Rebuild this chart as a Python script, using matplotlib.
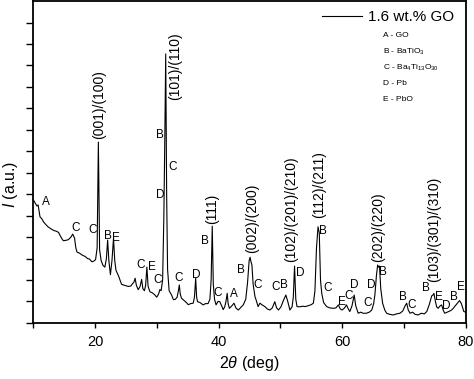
import matplotlib
matplotlib.use("Agg")
import matplotlib.pyplot as plt
from matplotlib.lines import Line2D

plt.rcParams['font.family'] = ['Liberation Sans', 'DejaVu Sans']
plt.rcParams['mathtext.fontset'] = 'custom'
plt.rcParams['mathtext.rm'] = 'Liberation Sans'
plt.rcParams['mathtext.it'] = 'Liberation Sans:italic'

# XRD pattern, 1.6 wt.% GO
two_theta = [
    10.0, 10.3, 10.6, 10.8, 11.1, 11.4, 11.7, 12.0, 12.4, 12.8, 13.1, 13.4, 13.7,
    14.1, 14.4, 14.7, 14.9, 15.3, 15.7, 16.1, 16.4, 16.7, 16.9, 17.1, 17.5, 18.0,
    18.4, 18.8, 19.1, 19.5, 19.8, 20.1, 20.35, 20.55, 20.75, 21.0, 21.3, 21.6,
    21.85, 22.05, 22.25, 22.5, 22.75, 23.0, 23.2, 23.4, 23.8, 24.3, 24.8, 25.4,
    25.8, 26.0, 26.3, 26.5, 26.7, 27.0, 27.3, 27.55, 27.75, 28.0, 28.2, 28.4,
    28.6, 28.9, 29.3, 29.7, 30.0, 30.3, 30.5, 30.7, 30.95, 31.15, 31.3, 31.45,
    31.6, 31.75, 32.0, 32.4, 32.7, 33.0, 33.3, 33.5, 33.65, 33.8, 34.0, 34.4,
    34.8, 35.1, 35.5, 35.9, 36.1, 36.3, 36.45, 36.6, 37.0, 37.5, 37.9, 38.3,
    38.6, 38.8, 38.98, 39.15, 39.35, 39.6, 39.9, 40.2, 40.5, 40.75, 41.0, 41.2,
    41.4, 41.55, 41.75, 42.1, 42.5, 42.8, 43.2, 43.6, 44.0, 44.4, 44.7, 44.95,
    45.1, 45.25, 45.4, 45.6, 45.9, 46.1, 46.4, 46.7, 47.0, 47.5, 47.9, 48.3,
    48.7, 49.1, 49.4, 49.7, 50.1, 50.5, 50.9, 51.2, 51.55, 51.9, 52.1, 52.3,
    52.5, 52.7, 53.2, 53.6, 54.0, 54.5, 55.0, 55.35, 55.6, 55.85, 56.1, 56.3,
    56.5, 56.7, 57.0, 57.5, 58.0, 58.6, 59.0, 59.4, 59.7, 60.0, 60.4, 60.7,
    61.0, 61.25, 61.6, 61.95, 62.2, 62.6, 63.0, 63.4, 63.9, 64.4, 64.8, 65.1,
    65.3, 65.55, 65.75, 65.9, 66.05, 66.25, 66.55, 66.9, 67.2, 67.7, 68.3, 68.8,
    69.35, 69.8, 70.2, 70.45, 70.7, 71.0, 71.4, 71.8, 72.3, 72.8, 73.3, 73.7,
    74.1, 74.5, 74.7, 74.85, 75.1, 75.3, 75.55, 75.8, 76.1, 76.35, 76.6, 77.0,
    77.4, 77.7, 78.0, 78.2, 78.6, 79.0, 79.3, 79.7, 80.0,
]
intensity = [
    5.75, 5.6, 5.45, 5.5, 4.95, 4.85, 4.7, 4.6, 4.48, 4.4, 4.35, 4.3, 4.28,
    4.22, 4.05, 3.9, 3.83, 3.85, 3.88, 4.0, 4.14, 3.95, 3.5, 3.3, 3.25, 3.15,
    3.1, 3.0, 2.98, 2.85, 2.88, 2.95, 3.5, 8.43, 3.4, 2.9, 2.68, 2.6,
    3.0, 3.86, 2.9, 2.25, 2.9, 3.94, 2.9, 2.45, 2.2, 1.8, 1.75, 1.7,
    1.72, 1.8, 1.9, 2.08, 1.75, 1.55, 1.7, 2.03, 1.6, 1.5, 1.75, 2.6,
    1.7, 1.45, 1.4, 1.3, 1.2, 1.35, 1.55, 1.5, 2.0, 5.0, 8.5, 12.54,
    6.0, 2.5, 1.5, 1.3, 1.08, 1.1, 1.2, 1.5, 1.77, 1.35, 1.15, 1.05,
    0.95, 0.85, 0.9, 0.92, 1.2, 2.08, 1.2, 0.99, 0.95, 0.84, 0.9, 0.9,
    1.1, 2.0, 4.51, 1.8, 1.1, 0.84, 1.0, 0.99, 0.8, 0.62, 0.75, 1.0,
    1.38, 0.9, 0.68, 0.78, 0.92, 0.7, 0.6, 0.72, 0.84, 1.1, 1.9, 2.9,
    3.06, 2.85, 2.7, 1.8, 1.22, 1.05, 0.76, 0.92, 0.85, 0.76, 0.65, 0.6,
    0.7, 0.99, 0.7, 0.6, 0.75, 1.05, 1.3, 1.0, 0.6, 0.75, 1.2, 2.65,
    1.1, 0.76, 0.75, 0.78, 0.76, 0.8, 0.85, 0.92, 1.5, 3.5, 4.48, 4.2,
    2.0, 1.38, 0.95, 0.76, 0.7, 0.68, 0.7, 0.84, 0.65, 0.6, 0.7, 0.84,
    0.65, 0.53, 0.8, 1.3, 0.8, 0.45, 0.5, 0.45, 0.45, 0.5, 0.6, 0.9,
    1.3, 2.2, 2.7, 2.6, 2.65, 1.6, 0.92, 0.6, 0.45, 0.4, 0.37, 0.42,
    0.45, 0.55, 0.8, 0.92, 0.6, 0.45, 0.5, 0.4, 0.37, 0.45, 0.42, 0.53,
    0.85, 1.26, 1.3, 1.38, 1.0, 0.75, 0.68, 0.78, 0.84, 0.6, 0.45, 0.5,
    0.55, 0.6, 0.68, 0.76, 0.9, 1.04, 0.9, 0.53, 0.5,
]

# phase letters at peaks
letter_text = ['A', 'C', 'C', 'B', 'E', 'C', 'E', 'C', 'D', 'B', 'C', 'C', 'D', 'B',
               'C', 'A', 'B', 'C', 'C', 'B', 'D', 'B', 'C', 'E', 'C', 'D', 'C', 'D',
               'B', 'B', 'C', 'B', 'E', 'D', 'B', 'E']
letter_x = [12.1, 16.9, 19.6, 22.05, 23.4, 27.45, 29.2, 30.2, 30.5, 30.5, 32.6, 33.5,
            36.4, 37.8, 39.9, 42.55, 43.6, 46.3, 49.25, 50.6, 53.3, 56.95, 57.65,
            60.0, 61.1, 62.0, 64.2, 64.65, 66.65, 69.9, 71.3, 73.5, 75.7, 76.8,
            78.1, 79.2]
letter_y = [5.63, 4.43, 4.33, 4.05, 3.98, 2.70, 2.59, 2.0, 5.95, 8.74, 7.27, 2.08,
            2.23, 3.83, 1.38, 1.35, 2.47, 1.77, 1.66, 1.77, 2.31, 4.29, 1.61,
            0.99, 1.26, 1.77, 0.92, 1.77, 2.39, 1.22, 0.84, 1.61, 1.2, 0.79,
            1.2, 1.66]

# Miller indices
hkl_text = ['(001)/(100)', '(101)/(110)', '(111)', '(002)/(200)',
            '(102)/(201)/(210)', '(112)/(211)', '(202)/(220)', '(103)/(301)/(310)']
hkl_x = [20.6, 33.0, 39.0, 45.4, 51.8, 56.3, 65.9, 74.95]
hkl_y = [8.55, 10.4, 4.6, 3.26, 2.84, 4.88, 2.85, 1.9]

phases = ['A - GO', 'B - BaTiO$_3$', 'C - Ba$_4$Ti$_{13}$O$_{30}$', 'D - Pb', 'E - PbO']

fig = plt.figure(figsize=(4.74, 3.79), dpi=100)
ax = fig.add_axes([0.070, 0.148, 0.9125, 0.849])

ax.plot(two_theta, intensity, color='black', lw=0.8)

for t, x, y in zip(letter_text, letter_x, letter_y):
    ax.text(x, y, t, fontsize=8.5, ha='center', va='center')
for t, x, y in zip(hkl_text, hkl_x, hkl_y):
    ax.text(x, y, t, fontsize=10, rotation=90, ha='center', va='bottom')

ax.set_xlim(10, 80)
ax.set_ylim(0, 15)
ax.set_xticks(range(10, 81, 10))
ax.set_xticklabels(['', '20', '', '40', '', '60', '', '80'], fontsize=10.5)
ax.set_yticks(range(0, 15))
ax.set_yticklabels([])
ax.tick_params(axis='x', direction='out', length=3.5, width=1, pad=5)
ax.tick_params(axis='y', direction='out', length=5, width=1)
for s in ax.spines.values():
    s.set_linewidth(1.3)

ax.set_xlabel(r'2$\it{\theta}$ (deg)', fontsize=11.5, labelpad=4)
ax.set_ylabel(r'$\it{I}$ (a.u.)', fontsize=11.5)
ax.yaxis.set_label_coords(-0.03, 0.43)

handle = [Line2D([], [], color='black', lw=0.8)]
ax.legend(handle, ['1.6 wt.% GO'], loc='upper right', frameon=False, fontsize=11,
          handlelength=2.6, handletextpad=0.4, borderaxespad=0.2,
          bbox_to_anchor=(0.995, 1.0))

for i, p in enumerate(phases):
    ax.text(0.808, 0.893 - i * 0.0495, p, transform=ax.transAxes, fontsize=6,
            ha='left', va='center')

fig.savefig('out.png', dpi=100)
